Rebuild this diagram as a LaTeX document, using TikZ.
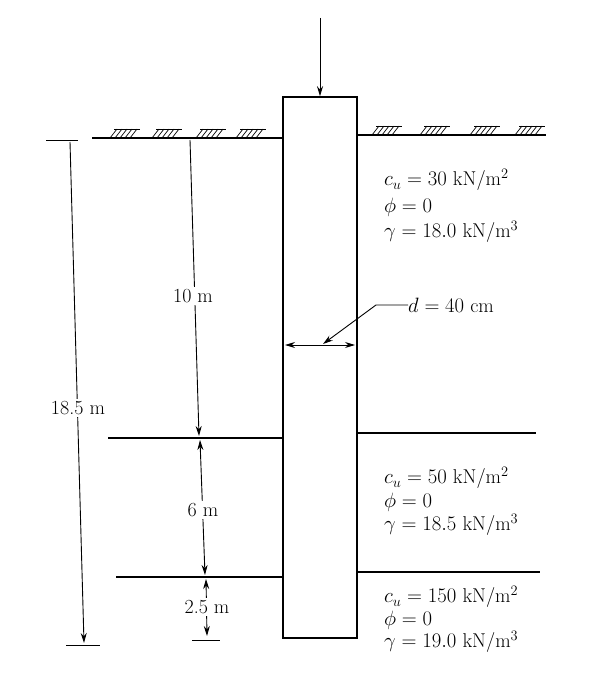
\documentclass[tikz,border=0pt]{standalone}
\usepackage{amsmath}
\usetikzlibrary{arrows.meta}
\begin{document}
\begin{tikzpicture}[x=1pt,y=-1pt,font=\fontsize{20}{24}\selectfont,
  ln/.style={line width=1.4pt},
  dim/.style={line width=0.9pt},
  arr/.style={-{Stealth[length=10pt,width=6pt]}},
  darr/.style={{Stealth[length=10pt,width=6pt]}-{Stealth[length=10pt,width=6pt]}},
  lbl/.style={anchor=west,inner sep=0pt}]
\useasboundingbox[fill=white] (0,0) rectangle (614,700);
% pile
\node[draw,line width=1.6pt,minimum width=74pt,minimum height=541pt,inner sep=0pt] (pile) at (320,367.5) {};
\coordinate (load) at (320,18);
\draw[dim,arr] (load) -- (pile.north);
% ground
\draw[ln] (92,138) -- (283,138);
\draw[ln] (357,135) -- (546,135);
\foreach \x in {110,152,196,236,372,420,470,515}{
  \ifdim\x pt<300pt \def\yy{138}\else\def\yy{135}\fi
  \foreach \d in {0,5,10,15,20}{\draw[line width=0.7pt] (\x+\d,\yy) -- (\x+\d+7,\yy-9);}
  \draw[line width=0.7pt] (\x+4,\yy-9) -- (\x+30,\yy-9);
}
% layers
\draw[ln] (108,438) -- (283,438);
\draw[ln] (357,433) -- (536,433);
\draw[ln] (116,577) -- (283,577);
\draw[ln] (357,572) -- (540,572);
% left dimension
\draw[dim] (46,140) -- (78,140);
\draw[dim] (66,645) -- (100,645);
\draw[dim,arr] (70,142) -- (84,643);
\node[fill=white,inner sep=2pt] (L185) at (78,408) {18.5 m};
% inner dims
\draw[dim,arr] (190,140) -- (199,436);
\node[fill=white,inner sep=2pt] (L10) at (193,296) {10 m};
\draw[dim,darr] (200,440) -- (205,575);
\node[fill=white,inner sep=2pt] (L6) at (203,510) {6 m};
\draw[dim,darr] (206,579) -- (207,636);
\draw[dim] (192,640) -- (220,640);
\node[fill=white,inner sep=2pt] (L25) at (207,607) {2.5 m};
% diameter
\draw[dim,darr] (285,345) -- (355,345);
\node[lbl] (dlab) at (408,305) {$d = 40$ cm};
\draw[dim,arr] (dlab.west) -- (376,305) -- (323,344);
% soil properties
\node[lbl] at (384,180) {$c_u = 30$ kN/m$^2$};
\node[lbl] at (384,207) {$\phi = 0$};
\node[lbl] at (384,232) {$\gamma = 18.0$ kN/m$^3$};
\node[lbl] at (384,478) {$c_u = 50$ kN/m$^2$};
\node[lbl] at (384,502) {$\phi = 0$};
\node[lbl] at (384,525) {$\gamma = 18.5$ kN/m$^3$};
\node[lbl] at (384,597) {$c_u = 150$ kN/m$^2$};
\node[lbl] at (384,620) {$\phi = 0$};
\node[lbl] at (384,642) {$\gamma = 19.0$ kN/m$^3$};
\end{tikzpicture}
\end{document}
